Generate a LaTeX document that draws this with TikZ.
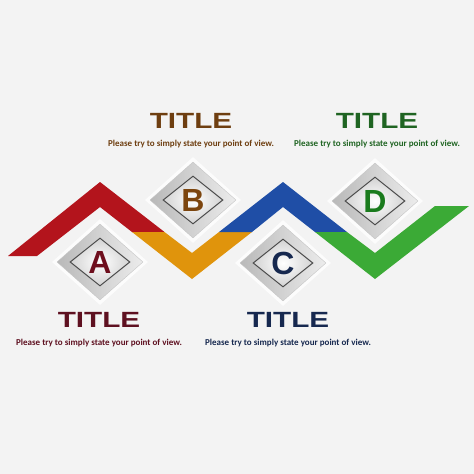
\documentclass[tikz,border=0pt]{standalone}
\usepackage{fontspec}
\usepackage{tikz}
\usetikzlibrary{positioning, shapes.geometric}
\newfontfamily\headfont{Liberation Sans}[FakeStretch=1.35]
\newfontfamily\letterfont{Liberation Sans}
\newfontfamily\notefont{Carlito}
\definecolor{paper}{HTML}{F3F3F3}
\definecolor{bandred}{HTML}{B3141C}
\definecolor{bandorange}{HTML}{E0940C}
\definecolor{bandblue}{HTML}{1F4EA6}
\definecolor{bandgreen}{HTML}{3BAA36}
\definecolor{inkA}{HTML}{5E1020}
\definecolor{inkB}{HTML}{6E3E10}
\definecolor{inkC}{HTML}{16284F}
\definecolor{inkD}{HTML}{1F6422}

\begin{document}
\begin{tikzpicture}[
  x=1pt, y=-1pt,
  every node/.style={inner sep=0pt},
  halo/.style={diamond, fill=white!75!paper, minimum width=96pt, minimum height=86pt},
  frame/.style={diamond, draw=gray!45, left color=gray!55, right color=gray!15, minimum width=86pt, minimum height=76pt},
  letterbox/.style={diamond, draw=gray!60!black, line width=1pt, inner color=white, outer color=gray!35, minimum width=60pt, minimum height=48pt, font=\letterfont\bfseries\fontsize{32}{32}\selectfont},
  heading/.style={font=\headfont\bfseries\fontsize{22}{22}\selectfont},
  note/.style={font=\notefont\bfseries\fontsize{9}{10}\selectfont}
]

% Background
\fill[paper] (0,0) rectangle (474,474);

% Halos
\node[halo] (haloA) at (100,262) {};
\node[halo] (haloB) at (193,200) {};
\node[halo] (haloC) at (283,263) {};
\node[halo] (haloD) at (375,201) {};

% Band
\fill[bandred] (8,256) -- (100,182) -- (164.5,232) -- (132,232) -- (100,207) -- (37,256) -- cycle;
\fill[bandorange] (132,232) -- (164.5,232) -- (192,253) -- (219,232) -- (252,232) -- (192,279) -- cycle;
\fill[bandblue] (219,232) -- (283,182) -- (347,232) -- (315,232) -- (283,207) -- (252,232) -- cycle;
\fill[bandgreen] (315,232) -- (347,232) -- (375,253) -- (435,206) -- (469,206) -- (375,279) -- cycle;

% Diamonds
\node[frame] (frameA) at (100,262) {};
\node[frame] (frameB) at (193,200) {};
\node[frame] (frameC) at (283,263) {};
\node[frame] (frameD) at (375,201) {};

\node[letterbox, text=inkA!90!red] (boxA) at (frameA) {A};
\node[letterbox, text=inkB!90!orange] (boxB) at (frameB) {B};
\node[letterbox, text=inkC] (boxC) at (frameC) {C};
\node[letterbox, text=inkD!85!green] (boxD) at (frameD) {D};

% Titles
\node[heading, text=inkB] (titleB) at (191,121) {TITLE};
\node[note, text=inkB, below=11pt of titleB] (noteB) {Please try to simply state your point of view.};
\node[heading, text=inkD] (titleD) at (377,121) {TITLE};
\node[note, text=inkD, below=11pt of titleD] (noteD) {Please try to simply state your point of view.};
\node[heading, text=inkA] (titleA) at (99,320) {TITLE};
\node[note, text=inkA, below=11pt of titleA] (noteA) {Please try to simply state your point of view.};
\node[heading, text=inkC] (titleC) at (288,320) {TITLE};
\node[note, text=inkC, below=11pt of titleC] (noteC) {Please try to simply state your point of view.};

\end{tikzpicture}
\end{document}
